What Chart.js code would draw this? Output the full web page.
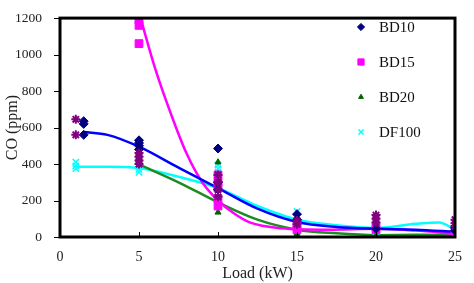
<!DOCTYPE html>
<html><head><meta charset="utf-8">
<script src="https://cdn.jsdelivr.net/npm/chart.js@4/dist/chart.umd.min.js"></script>
<style>html,body{margin:0;padding:0;background:#fff}#wrap{width:474px;height:283px}</style>
</head><body><div id="wrap"><canvas id="c" width="474" height="283"></canvas></div>
<script>
// Measured points
const bd10X = [1.5,1.5,1.5, 5,5,5,5, 10,10,10, 15,15, 20, 25,25];
const bd10Y = [635,620,560, 530,515,500,480, 485,300,260, 125,95, 45, 50,35];
const bd15X = [5,5,5, 10,10,10,10,10, 15,15, 20,20, 25];
const bd15Y = [1190,1160,1060, 340,300,270,210,170, 60,40, 55,40, 30];
const bd20X = [5, 10,10,10,10, 15,15, 20, 25];
const bd20Y = [395, 410,200,170,135, 20,8, 8, 8];
const df100X = [1,1,1, 5,5, 10,10,10, 15, 20, 25];
const df100Y = [410,390,375, 370,355, 395,375,355, 140, 30, 20];
const otherX = [1,1, 5,5,5,5, 10,10,10,10, 15,15, 20,20,20, 25,25,25];
const otherY = [645,560, 460,440,420,400, 340,300,260,220, 90,70, 120,100,80, 95,75,60];
// Trend curves
const bd10FitX = [1.5,3,5,7.5,10,12.5,15,17.5,20,22.5,25];
const bd10FitY = [575,560,495,380,268,155,82,55,45,40,28];
const bd15FitX = [5.1,6,7,8,9,10,11,12,14,17,20,22.5,25];
const bd15FitY = [1200,930,680,460,300,200,130,80,48,40,45,35,18];
const bd20FitX = [5,7.5,10,12.5,15,17.5,20,22.5,25];
const bd20FitY = [398,300,190,95,40,20,10,12,12];
const df100FitX = [1,3,5,7.5,10,12.5,15,17.5,20,22.5,24,25];
const df100FitY = [385,385,378,330,268,170,95,65,50,72,80,40];
const xTicks = [0,5,10,15,20,25];
const yTicks = [0,200,400,600,800,1000,1200];

const pts = (xs, ys) => xs.map((x, i) => ({x, y: ys[i]}));
const serif = "'Liberation Serif','Times New Roman',serif";

const fit = (xs, ys, color) => ({
  type: 'line', data: pts(xs, ys), borderColor: color, borderWidth: 2.5,
  pointRadius: 0, fill: false, cubicInterpolationMode: 'monotone', legend: false
});

const datasets = [
  {type:'scatter', label:'', data: pts(otherX, otherY), pointStyle:'star', radius:4.5,
   borderColor:'#800080', backgroundColor:'#800080', borderWidth:2, legend:false},
  {type:'scatter', label:'BD10', data: pts(bd10X, bd10Y), pointStyle:'rectRot', radius:4.5,
   borderColor:'#000080', backgroundColor:'#000080', borderWidth:1, legend:true},
  {type:'scatter', label:'BD15', data: pts(bd15X, bd15Y), pointStyle:'rect', radius:5.5,
   borderColor:'#FF00FF', backgroundColor:'#FF00FF', borderWidth:1, legend:true},
  {type:'scatter', label:'BD20', data: pts(bd20X, bd20Y), pointStyle:'triangle', radius:3.5,
   borderColor:'#006400', backgroundColor:'#006400', borderWidth:1, legend:true},
  {type:'scatter', label:'DF100', data: pts(df100X, df100Y), pointStyle:'crossRot', radius:4.5,
   borderColor:'#00FFFF', backgroundColor:'#00FFFF', borderWidth:1.5, legend:true},
  fit(bd10FitX, bd10FitY, '#0000FF'),
  fit(bd15FitX, bd15FitY, '#FF00FF'),
  fit(bd20FitX, bd20FitY, '#1E8B22'),
  fit(df100FitX, df100FitY, '#00FFFF'),
];

const frameAndLegend = {
  id: 'frameAndLegend',
  afterDatasetsDraw(chart) {
    const {ctx, chartArea: a, scales} = chart;
    ctx.save();
    ctx.strokeStyle = '#000'; ctx.lineWidth = 3;
    ctx.strokeRect(a.left, a.top, a.right - a.left, a.bottom - a.top);
    // tick marks
    ctx.lineWidth = 1;
    yTicks.forEach(v => {
      const y = Math.round(scales.y.getPixelForValue(v)) + 0.5;
      ctx.beginPath(); ctx.moveTo(a.left - 6, y); ctx.lineTo(a.left, y); ctx.stroke();
    });
    xTicks.forEach(v => {
      const x = Math.round(scales.x.getPixelForValue(v)) + 0.5;
      ctx.beginPath(); ctx.moveTo(x, a.bottom); ctx.lineTo(x, a.bottom - 5); ctx.stroke();
    });
    // legend inside plot
    const items = chart.data.datasets.filter(d => d.legend);
    const rows = [27, 62, 97, 132];
    items.forEach((d, i) => {
      const y = rows[i];
      ctx.fillStyle = d.backgroundColor; ctx.strokeStyle = d.borderColor; ctx.lineWidth = d.borderWidth;
      Chart.helpers.drawPoint(ctx, {
        pointStyle: d.pointStyle, radius: d.radius * 0.8, borderWidth: d.borderWidth, rotation: 0
      }, 361, y);
      ctx.fillStyle = '#111';
      ctx.font = '15px ' + serif;
      ctx.textAlign = 'left'; ctx.textBaseline = 'middle';
      ctx.fillText(d.label, 379, y + 1);
    });
    ctx.restore();
  }
};

new Chart(document.getElementById('c'), {
  data: { datasets },
  options: {
    responsive: false, animation: false,
    layout: { padding: { left: 3, right: 19, top: 14, bottom: 0 } },
    plugins: { legend: { display: false }, tooltip: { enabled: false } },
    scales: {
      x: {
        type: 'linear', min: 0, max: 25,
        afterBuildTicks: s => { s.ticks = xTicks.map(v => ({value: v})); },
        afterFit: s => { s.height = 46; },
        grid: { display: false },
        border: { display: false },
        ticks: { color: '#222', font: { family: serif, size: 14 }, padding: 4, callback: v => String(v) },
        title: { display: true, text: 'Load (kW)', color: '#222', font: { family: serif, size: 16 }, padding: { top: 0, bottom: 0 } }
      },
      y: {
        type: 'linear', min: 0, max: 1200,
        afterBuildTicks: s => { s.ticks = yTicks.map(v => ({value: v})); },
        afterFit: s => { s.width = 57; },
        grid: { display: false },
        border: { display: false },
        ticks: { color: '#222', font: { family: serif, size: 13.5 }, padding: 10, callback: v => String(v) },
        title: { display: true, text: 'CO (ppm)', color: '#222', font: { family: serif, size: 16 }, padding: { top: 0, bottom: 0 } }
      }
    }
  },
  plugins: [frameAndLegend]
});
</script></body></html>
